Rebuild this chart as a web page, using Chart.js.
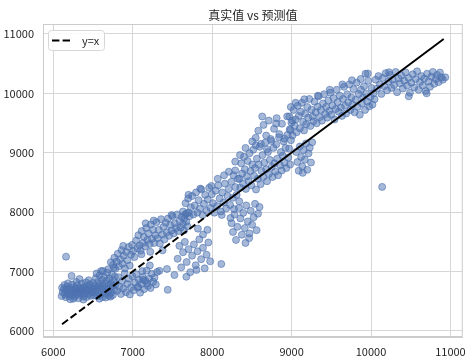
<!DOCTYPE html>
<html>
<head>
<meta charset="utf-8">
<script src="https://cdn.jsdelivr.net/npm/chart.js@4/dist/chart.umd.min.js"></script>
<style>
  html, body { margin: 0; padding: 0; background: #fff; }
  #wrap { width: 474px; height: 361px; }
</style>
</head>
<body>
<div id="wrap"><canvas id="c" width="474" height="361"></canvas></div>
<script>
// chart title / legend text
const chartTitle = "真实值 vs 预测值";
const lineLabel = "y=x";

// axis ticks
const tickValues = [6000, 7000, 8000, 9000, 10000, 11000];

// y=x reference line (true value range)
const lineX = [6110, 8000, 10915];

// scatter points [true, predicted]
const lowLeft = [
  [6105,6585],[6118,6648],[6132,6702],[6147,6611],[6158,6566],[6163,6690],[6176,6743],[6184,6627],
  [6197,6672],[6203,6583],[6215,6712],[6224,6648],[6236,6779],[6241,6603],[6255,6689],[6262,6735],
  [6268,6571],[6279,6652],[6286,6708],[6293,6614],[6301,6768],[6312,6681],[6318,6547],[6327,6639],
  [6334,6722],[6342,6601],[6351,6684],[6358,6795],[6366,6653],[6373,6718],[6381,6578],[6389,6742],
  [6396,6629],[6404,6691],[6412,6816],[6419,6567],[6428,6673],[6435,6745],[6443,6618],[6452,6702],
  [6461,6783],[6468,6589],[6476,6661],[6484,6729],[6493,6642],[6499,6806],[6140,6772],[6213,6530],
  [6290,6820],[6378,6525],[6445,6851],[6252,6540],[6330,6870],[6185,6800],[6110,6725],
  [6160,7248],[6230,6924]
];
const lowBlob = [
  [6505,6594],[6512,6706],[6521,6763],[6529,6641],[6536,6887],[6544,6712],[6553,6583],[6560,6822],
  [6567,6676],[6575,6745],[6583,6934],[6590,6612],[6597,6791],[6604,6702],[6612,6858],[6619,6569],
  [6626,6741],[6634,6663],[6641,6905],[6648,6788],[6656,6620],[6663,6712],[6671,6846],[6678,6979],
  [6685,6654],[6692,6764],[6700,6591],[6707,6881],[6714,6717],[6722,6802],[6729,6640],[6737,6947],
  [6744,6758],[6751,6603],[6759,6841],[6766,6689],[6774,6910],[6545,6965],[6601,7005],[6625,7008],
  [6660,6560],[6720,6575],[6580,6540],[6690,7035],[6760,7060]
];
const lowUpper = [
  [6752,7112],[6768,7231],[6781,7043],[6797,7165],[6812,7298],[6826,7087],[6843,7206],[6859,7358],
  [6871,7129],[6886,7264],[6902,7051],[6918,7325],[6933,7189],[6949,7412],[6962,7098],[6978,7283],
  [6991,7446],[6724,7154],[6880,7430],[7005,7345],[7022,7241]
];
const lowUnder = [
  [6785,6782],[6803,6671],[6818,6903],[6834,6745],[6851,6620],[6867,6838],[6882,6712],[6898,6966],
  [6915,6650],[6931,6789],[6948,6877],[6963,6611],[6979,6734],[6995,6921],[7011,6683],[7028,6812],
  [7044,6953],[7061,6730],[7077,6859],[7093,6642],[7110,6788],[7126,6907],[7142,6701],[7159,6843],
  [7175,7013],[7191,6756],[7208,6880],[7224,6720],[7240,6962],[7257,6827],[7273,6895],[7290,6781],
  [7306,6990],[7068,6740],[7130,6860],[7180,6800],[7215,7100],[7336,7010],[7431,7040],[7440,6690],
  [7525,6940],[7675,6910],[7802,7025],[7120,7005]
];
const midBand = [
  [7043,7520],[7057,7390],[7071,7610],[7086,7440],[7099,7350],[7112,7680],[7128,7480],[7141,7580],
  [7156,7420],[7170,7730],[7184,7530],[7199,7640],[7212,7460],[7227,7790],[7241,7550],[7256,7700],
  [7270,7480],[7285,7610],[7299,7830],[7313,7560],[7328,7700],[7342,7470],[7357,7880],[7371,7620],
  [7386,7750],[7400,7540],[7414,7820],[7429,7660],[7443,7890],[7458,7600],[7472,7780],[7487,7690],
  [7501,7930],[7516,7640],[7530,7810],[7545,7730],[7559,7960],[7574,7680],[7588,7850],[7603,7740],
  [7617,7920],[7632,7800],[7646,7690],[7661,7960],[7675,7840],[7690,7760],[7704,7990],[7162,7810],
  [7264,7856],[7375,7355],[7488,7950],[7110,7290],[7220,7330]
];
const midUnder = [
  [7565,7213],[7587,7431],[7610,7068],[7633,7322],[7656,7497],[7679,7158],[7702,7375],[7724,6987],
  [7747,7265],[7770,7455],[7793,7104],[7815,7338],[7838,7540],[7861,7206],[7884,7397],[7906,7052],
  [7929,7281],[7952,7488],[7975,7170],[7885,7620],[7940,7700],[7820,7720],[8115,7125]
];
const midDense = [
  [7632,8010],[7648,7890],[7665,8150],[7681,7980],[7698,8230],[7714,7930],[7731,8080],[7747,8270],
  [7764,7960],[7780,8110],[7797,8330],[7813,7990],[7830,8200],[7846,8060],[7863,8380],[7879,7950],
  [7896,8140],[7912,8290],[7929,8020],[7945,8210],[7962,8410],[7978,8070],[7995,8300],[8011,8150],
  [8028,7990],[8044,8360],[8061,8100],[8077,8450],[8094,8230],[8110,8010],[8127,8330],[8143,8160],
  [8160,8480],[8176,8060],[8193,8270],[8209,8390],[8226,8120],[8242,8510],[8259,8240],[8275,8050],
  [8292,8420],[8308,8290],[8325,8560],[8341,8180],[7702,8290],[7850,8395],[7990,8440],[8070,8560],
  [8150,8620],[8210,8680],[8290,8700],[8120,7950],[8230,7900]
];
const upperUnder = [
  [8244,7812],[8262,7664],[8281,7958],[8300,7530],[8318,7751],[8337,8067],[8355,7893],[8374,7618],
  [8392,7986],[8411,7730],[8429,8112],[8448,7842],[8466,7561],[8485,8021],[8503,7787],[8522,7912],
  [8540,8138],[8559,7695],[8577,7973],[8596,8085],[8420,7480],[8470,7640]
];
const upperDense = [
  [8343,8560],[8354,8410],[8366,8820],[8378,8650],[8389,8480],[8401,8930],[8412,8720],[8424,8390],
  [8436,8600],[8447,8860],[8459,8520],[8470,8990],[8482,8690],[8494,8450],[8505,8800],[8517,9050],
  [8528,8610],[8540,8740],[8552,8380],[8563,8900],[8575,8560],[8586,8800],[8598,9100],[8610,8470],
  [8621,8690],[8633,8960],[8644,8590],[8656,8830],[8668,9170],[8679,8720],[8691,8520],[8702,9010],
  [8714,8640],[8726,8880],[8737,9230],[8749,8760],[8760,8590],[8772,9080],[8784,8820],[8795,8680],
  [8807,9140],[8818,8900],[8830,8620],[8842,9260],[8853,8790],[8865,9010],[8876,8700],[8888,8950],
  [8900,9190],[8911,8830],[8923,9080],[8934,8740],[8946,9300],[8958,8920],[8969,9070],[8981,8800],
  [8992,9210],[8420,9080],[8505,9190],[8350,8960],[8290,8850],[8270,8620]
];
const upperTop = [
  [8548,9252],[8581,9371],[8614,9147],[8647,9468],[8680,9289],[8713,9541],[8746,9197],[8779,9402],
  [8812,9582],[8845,9313],[8878,9488],[8911,9236],[8944,9611],[8977,9395],[9010,9540],[8805,9490],
  [8550,9125],[8690,9060],[8630,9610]
];
const highUnder = [
  [9058,9012],[9073,8843],[9089,8695],[9104,9104],[9120,8928],[9135,8767],[9151,9043],[9166,8882],
  [9182,9156],[9197,8712],[9213,8988],[9228,9083],[9244,8835],[9259,9175],[9140,8660]
];
const highBand = [
  [8972,9610],[8985,9380],[8998,9505],[9011,9290],[9025,9720],[9038,9455],[9051,9560],[9064,9345],
  [9077,9790],[9091,9620],[9104,9410],[9117,9690],[9130,9840],[9144,9520],[9157,9375],[9170,9655],
  [9183,9480],[9197,9770],[9210,9590],[9223,9905],[9236,9450],[9250,9725],[9263,9610],[9276,9530],
  [9289,9860],[9303,9680],[9316,9495],[9329,9775],[9342,9950],[9356,9600],[9369,9720],[9382,9540],
  [9395,9830],[9409,9985],[9422,9650],[9435,9770],[9448,9590],[9462,9880],[9475,9705],[9488,10010],
  [9501,9640],[9515,9795],[9528,9920],[9541,9560],[9554,9735],[9568,10060],[9581,9850],[9594,9690],
  [9607,9960],[9621,9760],[9634,9620],[9647,9905],[9660,10110],[9674,9790],[9687,9660],[9700,9985],
  [9713,9850],[9727,10150],[9740,9720],[9753,9930],[9766,9810],[9780,10070],[9793,9680],[9806,9890],
  [9819,10180],[9833,9770],[9846,9990],[9859,9640],[9872,10060],[9886,9830],[9899,9930],[9912,10120],
  [9925,9720],[9939,9995],[9952,9860],[9965,10210],[9978,9780],[9992,9940],[10005,10090],[10018,9810],
  [10031,10000],[10045,9900],[9930,10330],[9960,10334],[9870,10240],[9760,10220],[9640,10150],[9480,10060],
  [9330,9960],[9160,9900],[9050,9840],[8990,9770]
];
const topFlat = [
  [10058,10230],[10076,10080],[10094,10290],[10112,10150],[10130,9990],[10148,10260],[10166,10120],
  [10184,10340],[10202,10050],[10220,10200],[10238,10310],[10256,10090],[10274,10230],[10292,10140],
  [10310,10360],[10328,10020],[10346,10250],[10364,10170],[10382,10300],[10400,10080],[10418,10210],
  [10436,10350],[10454,10130],[10472,10260],[10490,10010],[10508,10180],[10526,10320],[10544,10100],
  [10562,10240],[10580,10370],[10598,10060],[10616,10190],[10634,10290],[10652,10130],[10670,10250],
  [10688,10040],[10706,10330],[10724,10200],[10742,10110],[10760,10280],[10778,10360],[10796,10160],
  [10814,10240],[10832,10310],[10850,10190],[10868,10350],[10886,10270],[10904,10230],[10935,10270],
  [10700,10000],[10475,9950],[10225,10355],[10140,8424]
];

const scatterData = [].concat(lowLeft, lowBlob, lowUpper, lowUnder, midBand, midUnder,
  midDense, upperUnder, upperDense, upperTop, highUnder, highBand, topFlat)
  .map(p => ({ x: p[0], y: p[1] }));
const lineData = lineX.map(v => ({ x: v, y: v }));

const dash = [7.4, 3.2];

// title centred on the plot, frame on all four sides, legend box in the top-left corner
const decor = {
  id: 'decor',
  afterDraw(chart) {
    const ctx = chart.ctx;
    const a = chart.chartArea;
    ctx.save();
    ctx.strokeStyle = '#cccccc';
    ctx.lineWidth = 1;
    ctx.strokeRect(a.left + 0.5, a.top + 0.5, a.right - a.left - 1, a.bottom - a.top - 1);

    ctx.fillStyle = '#262626';
    ctx.font = '12px "Noto Sans CJK SC", sans-serif';
    ctx.textAlign = 'center';
    ctx.textBaseline = 'middle';
    ctx.fillText(chartTitle, (a.left + a.right) / 2, 15);

    const bx = a.left + 5, by = a.top + 6, bw = 56, bh = 20;
    ctx.beginPath();
    ctx.roundRect(bx + 0.5, by + 0.5, bw, bh, 3);
    ctx.fillStyle = 'rgba(255,255,255,0.85)';
    ctx.fill();
    ctx.strokeStyle = '#d6d6d6';
    ctx.stroke();

    ctx.beginPath();
    ctx.setLineDash(dash);
    ctx.strokeStyle = '#000';
    ctx.lineWidth = 2;
    ctx.moveTo(bx + 4, by + 10.5);
    ctx.lineTo(bx + 25, by + 10.5);
    ctx.stroke();
    ctx.setLineDash([]);

    ctx.fillStyle = '#262626';
    ctx.font = '11px "Noto Sans CJK SC", sans-serif';
    ctx.textAlign = 'left';
    ctx.fillText(lineLabel, bx + 34, by + 10.5);
    ctx.restore();
  }
};

const tickFont = { family: '"Noto Sans CJK SC", sans-serif', size: 11 };
const setTicks = s => { s.ticks = tickValues.map(v => ({ value: v })); };

new Chart(document.getElementById('c'), {
  type: 'scatter',
  data: {
    datasets: [
      {
        label: lineLabel,
        data: lineData,
        showLine: true,
        borderColor: '#000',
        borderWidth: 2,
        borderDash: dash,
        pointRadius: 0,
        order: 0,
        segment: {
          borderDash: c => c.p0.parsed.x < 8000 ? dash : []
        }
      },
      {
        label: 'points',
        data: scatterData,
        backgroundColor: 'rgba(76,114,176,0.5)',
        borderColor: 'rgba(76,114,176,0.6)',
        borderWidth: 1,
        pointRadius: 3.5,
        order: 1
      }
    ]
  },
  options: {
    responsive: false,
    animation: false,
    layout: { padding: { top: 24, right: 10, left: 0, bottom: 0 } },
    plugins: { legend: { display: false }, tooltip: { enabled: false } },
    scales: {
      x: {
        min: 5870, max: 11155,
        afterBuildTicks: setTicks,
        afterFit: s => { s.height = 24; },
        grid: { color: '#d6d6d6', drawTicks: false },
        border: { color: '#cccccc' },
        ticks: { font: tickFont, color: '#262626', padding: 8, maxRotation: 0, callback: v => String(v) }
      },
      y: {
        min: 5895, max: 11168,
        afterBuildTicks: setTicks,
        afterFit: s => { s.width = 43; },
        grid: { color: '#d6d6d6', drawTicks: false },
        border: { color: '#cccccc' },
        ticks: { font: tickFont, color: '#262626', padding: 9, callback: v => String(v) }
      }
    }
  },
  plugins: [decor]
});
</script>
</body>
</html>
